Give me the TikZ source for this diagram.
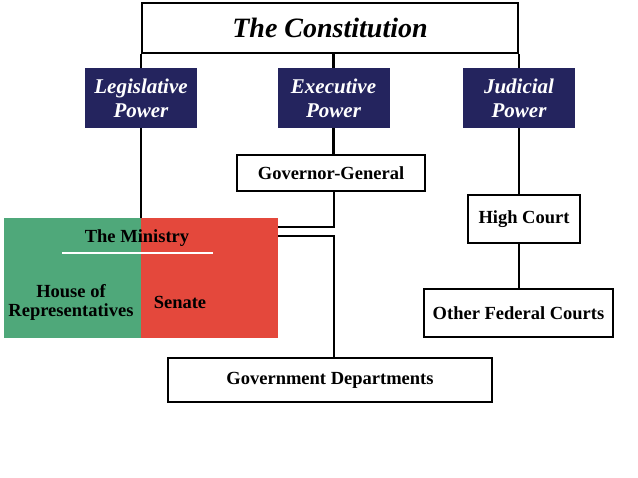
\documentclass[tikz,border=0pt]{standalone}
\usepackage{fontspec}
\setmainfont{Liberation Serif}
\usepackage{tikz}
\usetikzlibrary{calc}
\definecolor{pnavy}{RGB}{36, 36, 94}
\definecolor{pgreen}{RGB}{79, 168, 122}
\definecolor{pred}{RGB}{228, 72, 60}

\tikzset{
  wbox/.style={draw=black, line width=2.6pt, fill=white, inner sep=0pt,
    font=\fontsize{18.5}{21}\selectfont\bfseries},
  powerbox/.style={fill=pnavy, text=white, inner sep=0pt, align=center,
    minimum width=112pt, minimum height=60pt,
    font=\fontsize{21}{24}\selectfont\bfseries\itshape},
  link/.style={draw=black, line width=2.6pt},
  plain/.style={font=\fontsize{18.5}{19}\selectfont\bfseries, align=center, inner sep=0pt}
}

\begin{document}
\begin{tikzpicture}[x=1pt, y=-1pt]
\useasboundingbox (0,0) rectangle (638,478);

% Constitution at the top
\node[wbox, minimum width=376pt, minimum height=50pt,
  font=\fontsize{28}{32}\selectfont\bfseries\itshape] (const) at (330,28) {The Constitution};

% the three powers
\node[powerbox] (leg) at (141,98) {Legislative\\Power};
\node[powerbox] (exe) at (333.5,98) {Executive\\Power};
\node[powerbox] (jud) at (519,98) {Judicial\\Power};

% executive side
\node[wbox, minimum width=188pt, minimum height=36pt] (gg) at (331,173) {Governor-General};
\node[wbox, minimum width=324pt, minimum height=44pt] (gd) at (330,380) {Government Departments};

% parliament block
\node[fill=pgreen, minimum width=137pt, minimum height=120pt, inner sep=0pt] (house) at (72.5,278) {};
\node[fill=pred, minimum width=137pt, minimum height=120pt, inner sep=0pt] (senate) at (209.5,278) {};
\node[plain] (ministry) at (137,238) {The Ministry};
\draw[white, line width=2.6pt] (62,253) -- (213,253);
\node[plain] (houselbl) at (71,302) {House of\\Representatives};
\node[plain] (senatelbl) at (180,302) {Senate};

% judicial side
\node[wbox, minimum width=112pt, minimum height=48pt] (hc) at (524,219) {High Court};
\node[wbox, minimum width=189pt, minimum height=48pt] (ofc) at (518.5,313) {Other Federal Courts};

% connectors
\draw[link] (leg.north |- const.south) -- (leg.north);
\draw[link] (exe.north |- const.south) -- (exe.north);
\draw[link] (jud.north |- const.south) -- (jud.north);
\draw[link] (leg.south) -- (leg.south |- house.north);
\draw[link] (exe.south) -- (exe.south |- gg.north);
\coordinate (j1) at (334,227);
\coordinate (j2) at (334,236);
\draw[link] (gg.south -| j1) -- (j1) -- (j1 -| senate.east);
\draw[link] (j2 -| senate.east) -- (j2) -- (j2 |- gd.north);
\draw[link] (jud.south) -- (jud.south |- hc.north);
\draw[link] (jud.south |- hc.south) -- (jud.south |- ofc.north);
\end{tikzpicture}
\end{document}
